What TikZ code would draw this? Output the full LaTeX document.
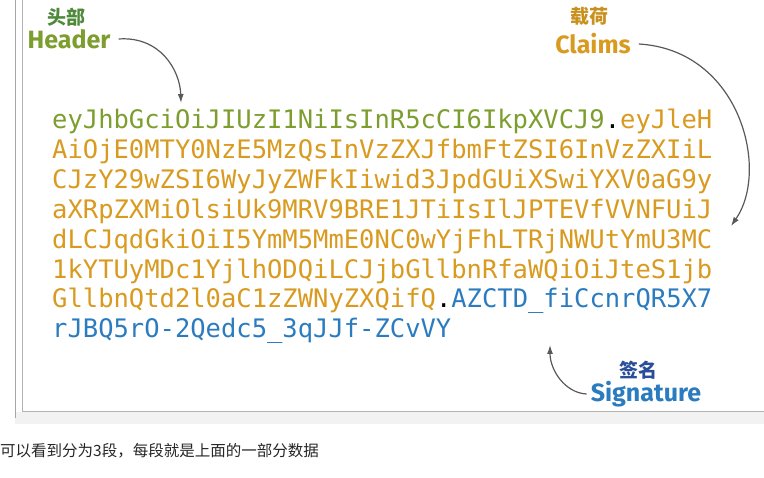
\documentclass[tikz,border=0pt]{standalone}
\usepackage{fontspec}
\usetikzlibrary{arrows.meta}
\setmainfont{Noto Sans CJK SC}
\newfontfamily\code{DejaVu Sans Mono}
\newfontfamily\lab{Fira Sans}
\newfontfamily\cjk{Noto Sans CJK SC}
\definecolor{hg}{HTML}{7D9E2F}
\definecolor{cg}{HTML}{D99A20}
\definecolor{sb}{HTML}{2B7BBF}
\definecolor{hgd}{HTML}{4E8A3A}
\definecolor{cgd}{HTML}{C8901C}
\definecolor{sbd}{HTML}{2A4E9A}
\begin{document}
\begin{tikzpicture}[x=1pt,y=-1pt,
  ln/.style={anchor=west,inner sep=0,font=\code\fontsize{25.5}{26}\selectfont},
  en/.style={font=\lab\bfseries\fontsize{25}{25}\selectfont,inner sep=0},
  zh/.style={font=\cjk\bfseries\fontsize{19}{19}\selectfont,inner sep=0},
  arr/.style={-{Latex[length=9pt,width=6pt]},draw=black!65,line width=1.2pt}]
\useasboundingbox (0,0) rectangle (764,478);
\fill[black!5] (15,412) rectangle (764,424);
\draw[black!35,line width=1pt] (15,0) -- (15,418);
\draw[black!30,line width=1pt] (22,0) -- (22,412) -- (764,412);
\node[ln] (l1) at (52,121) {\textcolor{hg}{eyJhbGciOiJIUzI1NiIsInR5cCI6IkpXVCJ9}.\textcolor{cg}{eyJleH}};
\node[ln,text=cg] (l2) at (52,151) {AiOjE0MTY0NzE5MzQsInVzZXJfbmFtZSI6InVzZXIiL};
\node[ln,text=cg] (l3) at (52,181) {CJzY29wZSI6WyJyZWFkIiwid3JpdGUiXSwiYXV0aG9y};
\node[ln,text=cg] (l4) at (52,211) {aXRpZXMiOlsiUk9MRV9BRE1JTiIsIlJPTEVfVVNFUiJ};
\node[ln,text=cg] (l5) at (52,241) {dLCJqdGkiOiI5YmM5MmE0NC0wYjFhLTRjNWUtYmU3MC};
\node[ln,text=cg] (l6) at (52,271) {1kYTUyMDc1YjlhODQiLCJjbGllbnRfaWQiOiJteS1jb};
\node[ln] (l7) at (52,301) {\textcolor{cg}{GllbnQtd2l0aC1zZWNyZXQifQ}.\textcolor{sb}{AZCTD\_fiCcnrQR5X7}};
\node[ln,text=sb] (l8) at (52,331) {rJBQ5rO-2Qedc5\_3qJJf-ZCvVY};
\node[zh,text=hgd] (hz) at (66,17) {头部};
\node[en,text=hg] (he) at (69,39) {Header};
\node[zh,text=cgd] (cz) at (589,16) {载荷};
\node[en,text=cg] (ce) at (593,44) {Claims};
\node[zh,text=sbd] (sz) at (638,370) {签名};
\node[en,text=sb] (se) at (646,394) {Signature};
\coordinate (ha) at (181,103);
\coordinate (ca) at (731,226);
\coordinate (sa) at (550,345);
\draw[arr] (he.east)++(8,0) .. controls (160,36) and (180,70) .. (ha);
\draw[arr] (ce.east)++(8,0) .. controls (740,50) and (770,170) .. (ca);
\draw[arr] (se.west)++(-4,0) .. controls (565,393) and (550,370) .. (sa);
\node[anchor=west,inner sep=0,text=black!85,font=\cjk\fontsize{15.5}{16}\selectfont] (cap) at (0,451) {可以看到分为3段，每段就是上面的一部分数据};
\end{tikzpicture}
\end{document}
